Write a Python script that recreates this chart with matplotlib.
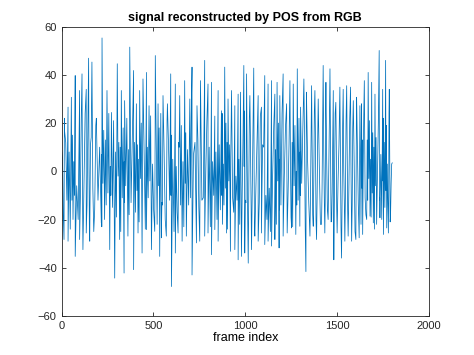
import numpy as np
import matplotlib
matplotlib.use("Agg")
import matplotlib.pyplot as plt

plt.rcParams['font.family'] = ['Liberation Sans', 'DejaVu Sans']

# peaks (frame index, value)
peak_frames = [1, 16, 35, 53, 74, 98, 111, 134, 147, 165, 189, 220, 247, 271, 303, 325, 343, 371, 392,
               407, 425, 443, 462, 476, 510, 525, 552, 576, 594, 619, 643, 670, 698, 710,
               737, 756, 779, 797, 816, 834, 852, 870, 888, 906, 925, 943, 961, 974, 992, 1007,
               1025, 1046, 1070, 1088, 1106, 1124, 1143, 1161, 1173, 1188, 1206, 1225, 1243,
               1261, 1283, 1301, 1319, 1333, 1361, 1379, 1397,
               1424, 1439, 1461, 1479, 1493, 1515, 1533, 1552, 1573, 1588, 1606, 1624, 1633,
               1648, 1669, 1688, 1706, 1729, 1748, 1764, 1784, 1800]
peak_vals = [8, 16.8, 26.6, 30.7, 39.7, 33.5, 40.4, 34, 46.9, 45.3, 22, 55.3, 33.5, 24.4, 44.6, 33.5,
             29.3, 51.5, 41.8, 28, 33.5, 38.3, 41, 27.2, 48, 28, 31.4, 28, 40.4, 36.2, 31.4, 37.6,
             30, 43.2,
             27.2, 37.6, 46, 36.2, 36.9, 22.9, 33.5, 25.1, 43.2, 30, 33.5, 27.2, 32, 32.8, 43.9,
             40.4, 31.4, 42.8, 31.4, 26.6, 39.7, 36.2, 37.6, 32, 36.9, 31.4, 40.4, 28, 37.6, 36.2,
             42.5, 26.6, 38.3, 32.8, 35.5, 33.5, 30,
             43.9, 36.9, 42.5, 33.5, 28.6, 34.9, 34, 35.5, 34.9, 29.3, 30.7, 27.2, 28, 37.6, 41,
             36.9, 32, 50.1, 34, 46, 34, 3.5]

# troughs (frame index, value)
trough_frames = [13, 35, 62, 74, 98, 116, 134, 153, 180, 216, 234, 262, 289, 316, 340, 361, 392,
                 416, 438, 462, 489, 507, 534, 543, 570, 598, 619, 634, 656, 679, 710,
                 734, 752, 779, 797, 816, 834, 852, 876, 898, 919, 943, 961, 979, 997, 1016,
                 1034, 1052, 1070, 1088, 1106, 1124, 1143, 1161, 1184, 1206, 1228, 1252, 1275,
                 1297, 1330, 1352, 1370, 1388,
                 1415, 1433, 1451, 1470, 1482, 1500, 1524, 1542, 1560, 1579, 1602, 1620, 1639,
                 1661, 1679, 1697, 1715, 1733, 1752, 1770, 1779, 1791]
trough_vals = [-28.3, -29, -20, -35.3, -28.3, -32.5, -25.6, -29, -16, -21.4, -20, -32.5, -44.3,
               -28.3, -42.2, -26.9, -40.8, -25.6, -33.9, -24.2, -32.5, -24.9, -35.3, -27.6, -26.9,
               -47.8, -33.9, -25.6, -29, -26.9, -43,
               -29.7, -29, -26.9, -25.6, -34.6, -24.2, -29, -22, -25.6, -33.2, -32.5, -36.7,
               -35.3, -33.9, -38.1, -32.5, -26.9, -29, -25.6, -30.4, -29, -31, -28.3, -31.8,
               -26.9, -25.6, -23.5, -26.2, -22.8, -41.6, -26.9, -22.8, -28.3,
               -22, -25.6, -20, -20.7, -36.7, -25.6, -36, -29, -26.9, -29, -28.3, -27.6, -26.2,
               -20, -18.6, -21.4, -22, -19.3, -26.2, -23.5, -25.6, -17.8]

# estimated in-between (mid-band) samples: two between each pair of successive extremes
mid_vals = [5, -8, 12, -3, 8, -12, 4, 10, -6, 2,
            -10, 6, -4, 9, -14, 3, 11, -7, 0, -12,
            7, -5, 13, -9, 2, -15, 8, -2, 10, -11,
            4, -6, 9, -13, 1, 12, -8, 5, -3, -10,
            6, -12, 10, -4, 3, -9, 14, -6, 0, -13,
            8, -2, 11, -10, 5, -7, 2, 12, -14, 4,
            -5, 9, -11, 1, 7, -8, 13, -3, -12, 6,
            0, -9, 10, -6, 4, -13, 8, -1, 11, -10,
            3, -7, 12, -4, 6, -11, 9, -2, -14, 5,
            10, -8, 2, -12, 7, -5, 13, -9, 1, -6,
            8, -13, 4, 11, -3, -10, 6, -7, 12, -1,
            -11, 9, -4, 5, -14, 10, -2, 7, -9, 3,
            12, -6, 0, -12, 8, -5, 11, -8, 4, -10,
            6, -3, 13, -11, 2, -7, 9, -13, 5, -1,
            10, -9, 3, -6, 12, -4, 7, -12, 1, -8,
            11, -5, 6, -14, 4, -2, 9, -10, 8, -7,
            2, -11, 13, -3, 5, -9, 10, -6, 0, -12,
            7, -4, 12, -8, 3, -10, 6, -5]
mid2_vals = [-18, 22, -12, 20, -24, 15, -10, 25, -20, 12,
             21, -16, 24, -11, 18, -22, 14, -25, 19, 10,
             -23, 17, -14, 24, -10, 21, -19, 12, -25, 18,
             -13, 22, -18, 14, 25, -17, 11, -21, 20, 15,
             -24, 19, -11, 23, -16, 13, -22, 18, 24, -14,
             -20, 21, -12, 15, -25, 22, -17, 10, 19, -23,
             16, -14, 24, -21, 12, 20, -15, 25, -11, -19,
             21, 13, -23, 18, -10, 22, -20, 14, -16, 24,
             -14, 20, -24, 11, 19, -17, 23, -12, 16, -22,
             -21, 15, 25, -13, -19, 22, -11, 18, -24, 12,
             -15, 23, -18, 10, 21, -20, 13, -25, 16, 19,
             14, -22, 20, -16, 24, -12, 18, -21, 11, -19,
             -23, 19, -14, 22, -10, 16, -24, 21, -13, 15,
             -18, 25, -20, 12, -22, 18, -11, 23, -16, 20,
             -21, 14, -19, 24, -15, 11, -23, 19, -12, 21,
             -16, 22, -10, 18, -25, 20, -14, 15, -22, 13,
             23, -18, -12, 21, -19, 16, -24, 14, 20, -11,
             -20, 22, -15, 19, -13, 24, -21, 3]

x_ticks = [0, 500, 1000, 1500, 2000]
y_ticks = [-60, -40, -20, 0, 20, 40, 60]

ext_f = np.array(peak_frames + trough_frames, dtype=float)
ext_v = np.array(peak_vals + trough_vals, dtype=float)
order = np.argsort(ext_f, kind='stable')
ext_f = ext_f[order]
ext_v = ext_v[order]

frames = []
vals = []
for i in range(len(ext_f)):
    frames.append(ext_f[i])
    vals.append(ext_v[i])
    if i < len(ext_f) - 1 and i < len(mid_vals) and i < len(mid2_vals):
        gap = ext_f[i + 1] - ext_f[i]
        frames.append(ext_f[i] + gap / 3.0)
        vals.append(mid_vals[i])
        frames.append(ext_f[i] + 2.0 * gap / 3.0)
        vals.append(mid2_vals[i])

fig = plt.figure(figsize=(4.74, 3.55), dpi=100)
ax = fig.add_axes([0.13, 0.11, 0.775, 0.815])
ax.plot(frames, vals, color='#0072BD', linewidth=0.55)
ax.set_xlim(0, 2000)
ax.set_ylim(-60, 60)
ax.set_xticks(x_ticks)
ax.set_yticks(y_ticks)
ax.tick_params(direction='in', length=3, width=0.6, colors='#262626', labelsize=8,
               top=True, right=True, labeltop=False, labelright=False)
for s in ax.spines.values():
    s.set_color('#262626')
    s.set_linewidth(0.6)
ax.set_title('signal reconstructed by POS from RGB', fontsize=9, fontweight='bold', pad=4)
ax.set_xlabel('frame index', fontsize=9, labelpad=1)
fig.savefig('out.png', dpi=100)
